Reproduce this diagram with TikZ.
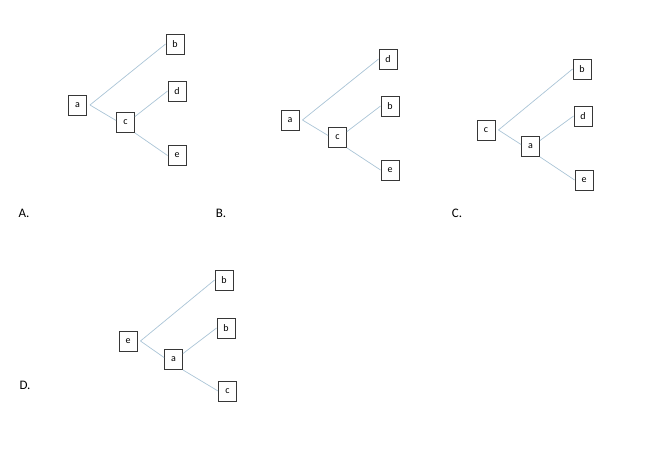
\documentclass[tikz,border=0pt]{standalone}
\usepackage{fontspec}
\setmainfont{Carlito}
\definecolor{linecol}{RGB}{170,196,214}
\definecolor{boxcol}{RGB}{55,55,55}
\begin{document}
\begin{tikzpicture}[x=1pt,y=-1pt,
  nodebox/.style={draw=boxcol, line width=0.9pt, minimum width=18pt, minimum height=20pt, inner sep=0pt, font=\fontsize{10}{10}\selectfont},
  edge/.style={draw=linecol, line width=0.7pt},
  optlabel/.style={font=\fontsize{13}{14}\selectfont, inner sep=0pt}]
\useasboundingbox (0,0) rectangle (669,472);
% Tree A
\node[nodebox] (Aa) at (77.5,105) {a};
\node[nodebox] (Ab) at (175,44) {b};
\node[nodebox] (Ad) at (177,91) {d};
\node[nodebox] (Ac) at (125.5,122.5) {c};
\node[nodebox] (Ae) at (177,155.5) {e};
\coordinate (Ar) at ([xshift=3pt]Aa.east);
\draw[edge] (Ar) -- (Ab.west);
\draw[edge] (Ar) -- ([yshift=2pt]Ac.west);
\draw[edge] ([yshift=-4.5pt]Ac.north east) -- (Ad.west);
\draw[edge] (Ac.south east) -- (Ae.west);
% Tree B
\node[nodebox] (Ba) at (290,120) {a};
\node[nodebox] (Bd) at (388,59) {d};
\node[nodebox] (Bb) at (390,106) {b};
\node[nodebox] (Bc) at (337.5,137.5) {c};
\node[nodebox] (Be) at (390,170) {e};
\coordinate (Br) at ([xshift=3pt]Ba.east);
\draw[edge] (Br) -- (Bd.west);
\draw[edge] (Br) -- ([yshift=2pt]Bc.west);
\draw[edge] ([yshift=-4.5pt]Bc.north east) -- (Bb.west);
\draw[edge] (Bc.south east) -- (Be.west);
% Tree C
\node[nodebox] (Cc) at (486,130) {c};
\node[nodebox] (Cb) at (582,69) {b};
\node[nodebox] (Cd) at (583,116) {d};
\node[nodebox] (Ca) at (530.5,146.5) {a};
\node[nodebox] (Ce) at (584,180) {e};
\coordinate (Cr) at ([xshift=3pt]Cc.east);
\draw[edge] (Cr) -- (Cb.west);
\draw[edge] (Cr) -- ([yshift=2pt]Ca.west);
\draw[edge] ([yshift=-4.5pt]Ca.north east) -- (Cd.west);
\draw[edge] (Ca.south east) -- (Ce.west);
% Tree D
\node[nodebox] (De) at (128,341) {e};
\node[nodebox] (Db1) at (224,280) {b};
\node[nodebox] (Db2) at (226,328) {b};
\node[nodebox] (Da) at (173.5,359.5) {a};
\node[nodebox] (Dc) at (227.5,391) {c};
\coordinate (Dr) at ([xshift=3pt]De.east);
\draw[edge] (Dr) -- (Db1.west);
\draw[edge] (Dr) -- ([yshift=2pt]Da.west);
\draw[edge] ([yshift=-4.5pt]Da.north east) -- (Db2.west);
\draw[edge] (Da.south east) -- (Dc.west);
% Option labels
\node[optlabel] (LA) at (24,213) {A.};
\node[optlabel] (LB) at (221,213) {B.};
\node[optlabel] (LC) at (457,213) {C.};
\node[optlabel] (LD) at (25,385) {D.};
\end{tikzpicture}
\end{document}
